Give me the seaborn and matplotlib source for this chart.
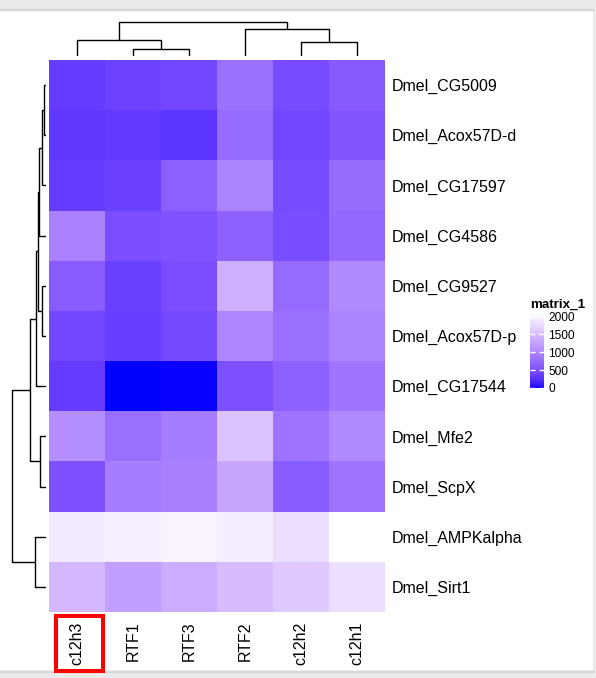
import numpy as np
import pandas as pd
import seaborn as sns
import matplotlib.pyplot as plt
from matplotlib.colors import ListedColormap
from matplotlib.patches import Rectangle
from scipy.cluster import hierarchy

plt.rcParams['font.family'] = ['Liberation Sans', 'DejaVu Sans']

genes = ['Dmel_CG5009', 'Dmel_Acox57D-d', 'Dmel_CG17597', 'Dmel_CG4586',
         'Dmel_CG9527', 'Dmel_Acox57D-p', 'Dmel_CG17544', 'Dmel_Mfe2',
         'Dmel_ScpX', 'Dmel_AMPKalpha', 'Dmel_Sirt1']
samples = ['c12h3', 'RTF1', 'RTF3', 'RTF2', 'c12h2', 'c12h1']

# values (0 = blue, ~2100 = white)
c12h3 = [330, 310, 330, 950, 620, 430, 340, 1060, 520, 1890, 1450]
rtf1 = [400, 320, 380, 500, 370, 360, 0, 780, 920, 1950, 1230]
rtf3 = [440, 280, 650, 540, 490, 455, 15, 920, 940, 1990, 1350]
rtf2 = [800, 740, 960, 670, 1370, 1000, 510, 1550, 1300, 1930, 1500]
c12h2 = [470, 430, 470, 480, 740, 790, 670, 830, 620, 1800, 1620]
c12h1 = [600, 560, 760, 730, 1040, 960, 850, 1030, 840, 2100, 1800]

legend_ticks = [0, 500, 1000, 1500, 2000]
vmin, vmax = 0, 2100

df = pd.DataFrame(dict(zip(samples, [c12h3, rtf1, rtf3, rtf2, c12h2, c12h1])),
                  index=genes)


# blue -> white ramp interpolated in LAB space (like colorRamp2)
WHITE = np.array([0.95047, 1.0, 1.08883])
M = np.array([[0.4124, 0.3576, 0.1805],
              [0.2126, 0.7152, 0.0722],
              [0.0193, 0.1192, 0.9505]])


def to_lab(rgb):
    rgb = np.asarray(rgb, float)
    lin = np.where(rgb <= 0.04045, rgb / 12.92, ((rgb + 0.055) / 1.055) ** 2.4)
    xyz = lin @ M.T / WHITE
    d = 6 / 29
    f = np.where(xyz > d ** 3, np.cbrt(xyz), xyz / (3 * d * d) + 4 / 29)
    return np.array([116 * f[1] - 16, 500 * (f[0] - f[1]), 200 * (f[1] - f[2])])


def from_lab(lab):
    L, a, b = lab[:, 0], lab[:, 1], lab[:, 2]
    fy = (L + 16) / 116
    f = np.stack([fy + a / 500, fy, fy - b / 200], -1)
    d = 6 / 29
    xyz = np.where(f > d, f ** 3, 3 * d * d * (f - 4 / 29)) * WHITE
    lin = np.clip(xyz @ np.linalg.inv(M).T, 0, 1)
    rgb = np.where(lin <= 0.0031308, lin * 12.92, 1.055 * lin ** (1 / 2.4) - 0.055)
    return np.clip(rgb, 0, 1)


t = np.linspace(0, 1, 256)[:, None]
lab0, lab1 = to_lab([0, 0, 1]), to_lab([1, 1, 1])
cmap = ListedColormap(from_lab(lab0 + t * (lab1 - lab0)))


def ordered_linkage(values):
    # complete linkage, children flipped so leaves keep the given order
    Z = hierarchy.linkage(values, method='complete', metric='euclidean')
    n = len(values)
    first = list(range(n))
    for row in Z:
        a, b = int(row[0]), int(row[1])
        if first[a] > first[b]:
            row[0], row[1] = b, a
        first.append(min(first[a], first[b]))
    return Z


row_link = ordered_linkage(df.values)
col_link = ordered_linkage(df.values.T)

g = sns.clustermap(df, row_linkage=row_link, col_linkage=col_link,
                   cmap=cmap, vmin=vmin, vmax=vmax,
                   figsize=(5.96, 6.78), xticklabels=True, yticklabels=True,
                   tree_kws=dict(colors='black', linewidths=1.0),
                   cbar_kws=dict(ticks=legend_ticks))
fig = g.figure
W, H = 596, 678


def px(left, top, w, h):
    return [left / W, 1 - (top + h) / H, w / W, h / H]


g.ax_heatmap.set_position(px(49, 60, 336, 552))
g.ax_col_dendrogram.set_position(px(49, 20, 336, 35.7))
g.ax_row_dendrogram.set_position(px(10, 60, 36, 552))
g.ax_cbar.set_position(px(530, 313, 14, 75))

ax = g.ax_heatmap
ax.set_xlabel('')
ax.set_ylabel('')
ax.tick_params(axis='both', length=0, labelsize=11.5)
ax.tick_params(axis='y', pad=5)
ax.tick_params(axis='x', pad=7)
plt.setp(ax.get_xticklabels(), rotation=90)
plt.setp(ax.get_yticklabels(), rotation=0)

cb = ax.collections[0].colorbar
cb.outline.set_visible(False)
cb.set_ticks(legend_ticks)
g.ax_cbar.tick_params(axis='y', which='both', direction='in', length=3.5,
                      width=1, color='white', left=True, right=True,
                      labelleft=False, labelright=True, labelsize=8.6, pad=3)
g.ax_cbar.set_title('matrix_1', loc='left', fontsize=9.6,
                    fontweight='bold', pad=4)

# viewer frame around the plot
frame = '#ebebeb'
for x0, y0, w, h in [(0, 0, 596, 9), (0, 671, 596, 7), (593, 0, 3, 678)]:
    fig.patches.append(Rectangle((x0 / W, 1 - (y0 + h) / H), w / W, h / H,
                                 transform=fig.transFigure, color=frame,
                                 zorder=0))
for y0 in (9, 671):
    fig.patches.append(Rectangle((0, 1 - (y0 + 1) / H), 593 / W, 1 / H,
                                 transform=fig.transFigure, color='#d6d6d6',
                                 zorder=0))

# red box around the first column label
fig.canvas.draw()
bb = ax.get_xticklabels()[0].get_window_extent()
fig.patches.append(Rectangle((bb.x0 - 14, bb.y0 - 6), bb.width + 32,
                             bb.height + 12, transform=None, fill=False,
                             edgecolor='red', linewidth=2.9, zorder=5))

fig.savefig('out.png', dpi=100)
